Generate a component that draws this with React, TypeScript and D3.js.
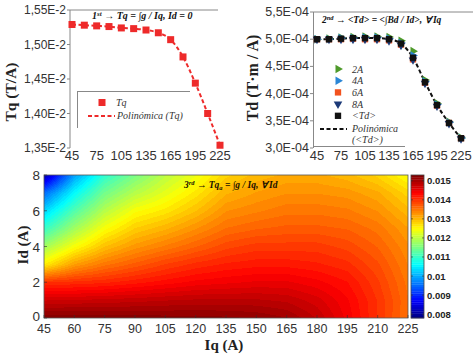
import React, { useMemo } from 'react';
import * as d3 from 'd3';

// ---------- DATA ----------
const iqValues = [45, 60, 75, 90, 105, 120, 135, 150, 165, 180, 195, 210, 225];
const tqValues = [0.01529, 0.01528, 0.01527, 0.01526, 0.01524, 0.01523, 0.01521, 0.01517, 0.01507, 0.01482, 0.01444, 0.014, 0.01354];

// Td series (values x 1e-4)
const td2A = [5.0, 5.01, 5.03, 5.04, 5.05, 5.05, 5.04, 4.97, 4.78, 4.25, 3.82, 3.48, 3.19];
const td4A = [5.0, 5.0, 5.02, 5.02, 5.03, 5.03, 5.01, 4.93, 4.7, 4.22, 3.8, 3.47, 3.18];
const td6A = [5.0, 5.0, 5.0, 5.01, 5.0, 5.0, 4.98, 4.9, 4.63, 4.2, 3.78, 3.46, 3.18];
const td8A = [5.0, 5.0, 5.0, 5.0, 5.0, 5.0, 4.97, 4.89, 4.62, 4.19, 3.77, 3.45, 3.17];
const tdMean = [5.0, 5.0, 5.01, 5.02, 5.02, 5.02, 5.0, 4.92, 4.66, 4.21, 3.79, 3.46, 3.18];

const topTicksX = [45, 75, 105, 135, 165, 195, 225];
const tqTicks = [0.0135, 0.014, 0.0145, 0.015, 0.0155];
const tdTicks = [3.0, 3.5, 4.0, 4.5, 5.0, 5.5];

// Heatmap: rows Id = 0..8 A, columns Iq as iqValues (values x 1e-3)
const idValues = [0, 1, 2, 3, 4, 5, 6, 7, 8];
const tqMap = [
  [15.29, 15.28, 15.27, 15.26, 15.24, 15.23, 15.21, 15.17, 15.07, 14.82, 14.44, 14.0, 13.54],
  [14.7, 14.72, 14.75, 14.78, 14.82, 14.85, 14.86, 14.85, 14.8, 14.65, 14.38, 14.0, 13.55],
  [14.0, 14.05, 14.1, 14.2, 14.3, 14.4, 14.45, 14.5, 14.5, 14.4, 14.25, 13.92, 13.5],
  [12.6, 13.2, 13.5, 13.7, 13.9, 14.05, 14.15, 14.2, 14.2, 14.15, 14.05, 13.8, 13.42],
  [11.8, 12.45, 12.95, 13.25, 13.45, 13.65, 13.85, 13.95, 13.95, 13.95, 13.85, 13.65, 13.33],
  [11.0, 11.8, 12.45, 12.85, 13.05, 13.3, 13.55, 13.65, 13.7, 13.7, 13.65, 13.5, 13.2],
  [10.3, 11.2, 11.95, 12.45, 12.65, 12.95, 13.3, 13.4, 13.5, 13.5, 13.45, 13.3, 13.0],
  [9.5, 10.6, 11.45, 11.95, 12.3, 12.65, 13.05, 13.2, 13.3, 13.3, 13.25, 13.1, 12.78],
  [8.1, 9.9, 10.95, 11.5, 12.0, 12.35, 12.8, 13.0, 13.1, 13.1, 13.0, 12.8, 12.45],
];
const heatTicksY = [0, 2, 4, 6, 8];
const cbarTicks = [0.008, 0.009, 0.01, 0.011, 0.012, 0.013, 0.014, 0.015];
const cbarDomain = [0.0078, 0.0153];

// ---------- HELPERS ----------
const SERIF = "'Liberation Serif', 'Times New Roman', serif";
const SANS = "'Liberation Sans', Arial, sans-serif";

function jet(t: number): [number, number, number] {
  const n = 64;
  let idx = Math.floor(t * n);
  idx = Math.max(0, Math.min(n - 1, idx));
  const tt = (idx + 0.5) / n;
  const c = (v: number) => Math.max(0, Math.min(1, v));
  return [c(1.5 - Math.abs(4 * tt - 3)), c(1.5 - Math.abs(4 * tt - 2)), c(1.5 - Math.abs(4 * tt - 1))];
}

const sym = (type: d3.SymbolType, size: number) => d3.symbol().type(type).size(size)() as string;

export default function App() {
  // ---- top-left ----
  const xL = d3.scaleLinear().domain([45, 225]).range([72, 220]);
  const yL = d3.scaleLinear().domain([0.0135, 0.0155]).range([148, 10]);
  const lineL = d3.line<number>().x((_, i) => xL(iqValues[i])).y((d) => yL(d)).curve(d3.curveMonotoneX);

  // ---- top-right ----
  const xR = d3.scaleLinear().domain([45, 225]).range([317, 461]);
  const yR = d3.scaleLinear().domain([3.0, 5.5]).range([148, 12]);
  const lineR = d3.line<number>().x((_, i) => xR(iqValues[i])).y((d) => yR(d)).curve(d3.curveMonotoneX);

  // ---- heatmap ----
  const hx = d3.scaleLinear().domain([45, 225]).range([44, 408]);
  const hy = d3.scaleLinear().domain([0, 8]).range([318, 175]);
  const cS = d3.scaleLinear().domain(cbarDomain).range([318, 175]);
  const tS = d3.scaleLinear().domain(cbarDomain).range([0, 1]);

  const heatUrl = useMemo(() => {
    const w = 364, h = 143;
    const canvas = document.createElement('canvas');
    canvas.width = w;
    canvas.height = h;
    const ctx = canvas.getContext('2d');
    if (!ctx) return '';
    const img = ctx.createImageData(w, h);
    const fx = d3.scaleLinear().domain([iqValues[0], iqValues[iqValues.length - 1]]).range([0, iqValues.length - 1]);
    const fy = d3.scaleLinear().domain([idValues[0], idValues[idValues.length - 1]]).range([0, idValues.length - 1]);
    for (let py = 0; py < h; py++) {
      for (let px = 0; px < w; px++) {
        const iq = hx.invert(44 + px + 0.5);
        const id = hy.invert(175 + py + 0.5);
        const gx = Math.max(0, Math.min(iqValues.length - 1, fx(iq)));
        const gy = Math.max(0, Math.min(idValues.length - 1, fy(id)));
        const i0 = Math.min(iqValues.length - 2, Math.floor(gx));
        const j0 = Math.min(idValues.length - 2, Math.floor(gy));
        const ax = gx - i0, ay = gy - j0;
        const v00 = tqMap[j0][i0], v10 = tqMap[j0][i0 + 1];
        const v01 = tqMap[j0 + 1][i0], v11 = tqMap[j0 + 1][i0 + 1];
        const v = ((v00 * (1 - ax) + v10 * ax) * (1 - ay) + (v01 * (1 - ax) + v11 * ax) * ay) * 1e-3;
        const [r, g, b] = jet(tS(v));
        const k = (py * w + px) * 4;
        img.data[k] = Math.round(r * 255);
        img.data[k + 1] = Math.round(g * 255);
        img.data[k + 2] = Math.round(b * 255);
        img.data[k + 3] = 255;
      }
    }
    ctx.putImageData(img, 0, 0);
    return canvas.toDataURL();
  }, []);

  const cbarSteps = d3.range(64);
  const cbarH = 143 / 64;

  const red = '#ee2a2a';
  const gray = '#888';
  const txt = '#333';

  const legendR = [
    { label: '2A', color: '#4e9a2a', shape: sym(d3.symbolTriangle, 32), rot: 90 },
    { label: '4A', color: '#2a86d6', shape: sym(d3.symbolTriangle, 32), rot: 90 },
    { label: '6A', color: '#f2521e', shape: sym(d3.symbolSquare, 40), rot: 0 },
    { label: '8A', color: '#1c3a78', shape: sym(d3.symbolTriangle, 32), rot: 180 },
    { label: '<Td>', color: '#111', shape: sym(d3.symbolSquare, 40), rot: 0 },
  ];
  const seriesR = [td2A, td4A, td6A, td8A, tdMean];

  return (
    <svg width={474} height={355} style={{ position: 'absolute', left: 0, top: 0, background: '#fff' }}>
      {/* ================= TOP LEFT ================= */}
      <line x1={70} x2={218} y1={10} y2={10} stroke={gray} strokeWidth={1} />
      <line x1={70} x2={70} y1={10} y2={148} stroke={gray} strokeWidth={1} />
      {tqTicks.map((t) => (
        <g key={t}>
          <line x1={67} x2={70} y1={yL(t)} y2={yL(t)} stroke={gray} />
          <text x={66} y={yL(t) + 4} textAnchor="end" fontFamily={SANS} fontSize={12} fill={txt}>
            {(t * 100).toFixed(2).replace('.', ',') + 'E-2'}
          </text>
        </g>
      ))}
      {topTicksX.map((t) => (
        <text key={t} x={xL(t)} y={160} textAnchor="middle" fontFamily={SANS} fontSize={13} fill={txt}>
          {t}
        </text>
      ))}
      <text transform="translate(16,92) rotate(-90)" textAnchor="middle" fontFamily={SERIF} fontWeight="bold" fontSize={15.5} fill="#222">
        Tq (T/A)
      </text>
      <text x={92} y={19} fontFamily={SERIF} fontWeight="bold" fontStyle="italic" fontSize={10} fill="#111">
        1<tspan dy={-3} fontSize={7}>st</tspan>
        <tspan dy={3}> → Tq = ∫g / Iq, Id = 0</tspan>
      </text>
      <path d={lineL(tqValues) || ''} fill="none" stroke={red} strokeWidth={2} strokeDasharray="4,2.5" />
      {tqValues.map((v, i) => (
        <rect key={i} x={xL(iqValues[i]) - 3.5} y={yL(v) - 3.5} width={7} height={7} fill={red} />
      ))}
      {/* legend */}
      <line x1={77} x2={190} y1={91.5} y2={91.5} stroke={gray} />
      <line x1={77.5} x2={77.5} y1={91} y2={128} stroke={gray} />
      <rect x={98.5} y={99} width={7} height={7} fill={red} />
      <text x={116} y={106} fontFamily={SERIF} fontStyle="italic" fontSize={10} fill={txt}>
        Tq
      </text>
      <line x1={88} x2={115} y1={116} y2={116} stroke={red} strokeWidth={2} strokeDasharray="4,2.5" />
      <text x={117} y={119} fontFamily={SERIF} fontStyle="italic" fontSize={10} fill={txt}>
        Polinómica (Tq)
      </text>

      {/* ================= TOP RIGHT ================= */}
      <line x1={313} x2={473} y1={12} y2={12} stroke={gray} />
      <line x1={313.5} x2={313.5} y1={12} y2={148} stroke={gray} />
      <line x1={313} x2={405} y1={146.5} y2={146.5} stroke={gray} />
      {tdTicks.map((t) => (
        <g key={t}>
          <line x1={310} x2={313} y1={yR(t)} y2={yR(t)} stroke={gray} />
          <text x={309} y={yR(t) + 4} textAnchor="end" fontFamily={SANS} fontSize={12.5} fill={txt}>
            {t.toFixed(1).replace('.', ',') + 'E-04'}
          </text>
        </g>
      ))}
      {topTicksX.map((t) => (
        <text key={t} x={xR(t)} y={160} textAnchor="middle" fontFamily={SANS} fontSize={13} fill={txt}>
          {t}
        </text>
      ))}
      <text transform="translate(258,78) rotate(-90)" textAnchor="middle" fontFamily={SERIF} fontWeight="bold" fontSize={16} fill="#222">
        Td (T·m / A)
      </text>
      <text x={322} y={23} fontFamily={SERIF} fontWeight="bold" fontStyle="italic" fontSize={9.5} fill="#111">
        2<tspan dy={-3} fontSize={6.5}>nd</tspan>
        <tspan dy={3}> → &lt;Td&gt; = &lt;∫Bd / Id&gt;, ∀ Iq</tspan>
      </text>
      <path d={lineR(tdMean) || ''} fill="none" stroke="#111" strokeWidth={2} strokeDasharray="4,2.5" />
      {seriesR.map((s, si) =>
        s.map((v, i) => (
          <path
            key={si + '-' + i}
            d={legendR[si].shape}
            fill={legendR[si].color}
            transform={`translate(${xR(iqValues[i])},${yR(v)}) rotate(${legendR[si].rot})`}
          />
        ))
      )}
      {legendR.map((l, i) => (
        <g key={l.label}>
          <path d={l.shape} fill={l.color} transform={`translate(338,${69 + i * 11.7}) rotate(${l.rot})`} />
          <text x={352} y={72.5 + i * 11.7} fontFamily={SERIF} fontStyle="italic" fontSize={10} fill={txt}>
            {l.label}
          </text>
        </g>
      ))}
      <line x1={320} x2={347} y1={129} y2={129} stroke="#111" strokeWidth={2} strokeDasharray="4,2.5" />
      <text x={352} y={132} fontFamily={SERIF} fontStyle="italic" fontSize={10} fill={txt}>
        Polinómica
      </text>
      <text x={352} y={143} fontFamily={SERIF} fontStyle="italic" fontSize={10} fill={txt}>
        (&lt;Td&gt;)
      </text>

      {/* ================= HEATMAP ================= */}
      {heatUrl && <image href={heatUrl} x={44} y={175} width={364} height={143} preserveAspectRatio="none" />}
      <rect x={44} y={175} width={364} height={143} fill="none" stroke="#555" strokeWidth={0.8} />
      {heatTicksY.map((t) => (
        <g key={t}>
          <line x1={44} x2={47} y1={hy(t)} y2={hy(t)} stroke="#333" strokeWidth={0.6} />
          <text x={40} y={hy(t) + (t === 0 ? 3 : 5)} textAnchor="end" fontFamily={SANS} fontSize={13.5} fill={txt}>
            {t}
          </text>
        </g>
      ))}
      {iqValues.map((t) => (
        <g key={t}>
          <line x1={hx(t)} x2={hx(t)} y1={318} y2={315} stroke="#333" strokeWidth={0.6} />
          <text x={hx(t)} y={333} textAnchor="middle" fontFamily={SANS} fontSize={12.5} fill={txt}>
            {t}
          </text>
        </g>
      ))}
      <text transform="translate(28,245) rotate(-90)" textAnchor="middle" fontFamily={SERIF} fontWeight="bold" fontSize={15} fill="#222">
        Id (A)
      </text>
      <text x={224} y={350} textAnchor="middle" fontFamily={SERIF} fontWeight="bold" fontSize={15} fill="#222">
        Iq (A)
      </text>
      <text x={184} y={188} fontFamily={SERIF} fontWeight="bold" fontStyle="italic" fontSize={9.5} fill="#1a1000">
        3<tspan dy={-3} fontSize={6.5}>rd</tspan>
        <tspan dy={3}> → Tq</tspan>
        <tspan dy={2} fontSize={6.5}>a</tspan>
        <tspan dy={-2}> = ∫g / Iq, ∀ Id</tspan>
      </text>

      {/* colorbar */}
      {cbarSteps.map((k) => {
        const [r, g, b] = jet((k + 0.5) / 64);
        return (
          <rect
            key={k}
            x={411}
            y={318 - (k + 1) * cbarH}
            width={13}
            height={cbarH + 0.3}
            fill={d3.rgb(r * 255, g * 255, b * 255).formatHex()}
          />
        );
      })}
      <rect x={411} y={175} width={13} height={143} fill="none" stroke="#444" strokeWidth={0.8} />
      {cbarTicks.map((t) => (
        <g key={t}>
          <line x1={411} x2={413} y1={cS(t)} y2={cS(t)} stroke="#333" strokeWidth={0.6} />
          <line x1={422} x2={424} y1={cS(t)} y2={cS(t)} stroke="#333" strokeWidth={0.6} />
          <text x={427} y={cS(t) + 3.5} fontFamily={SANS} fontWeight="bold" fontSize={9.5} fill="#222">
            {String(t)}
          </text>
        </g>
      ))}
    </svg>
  );
}
